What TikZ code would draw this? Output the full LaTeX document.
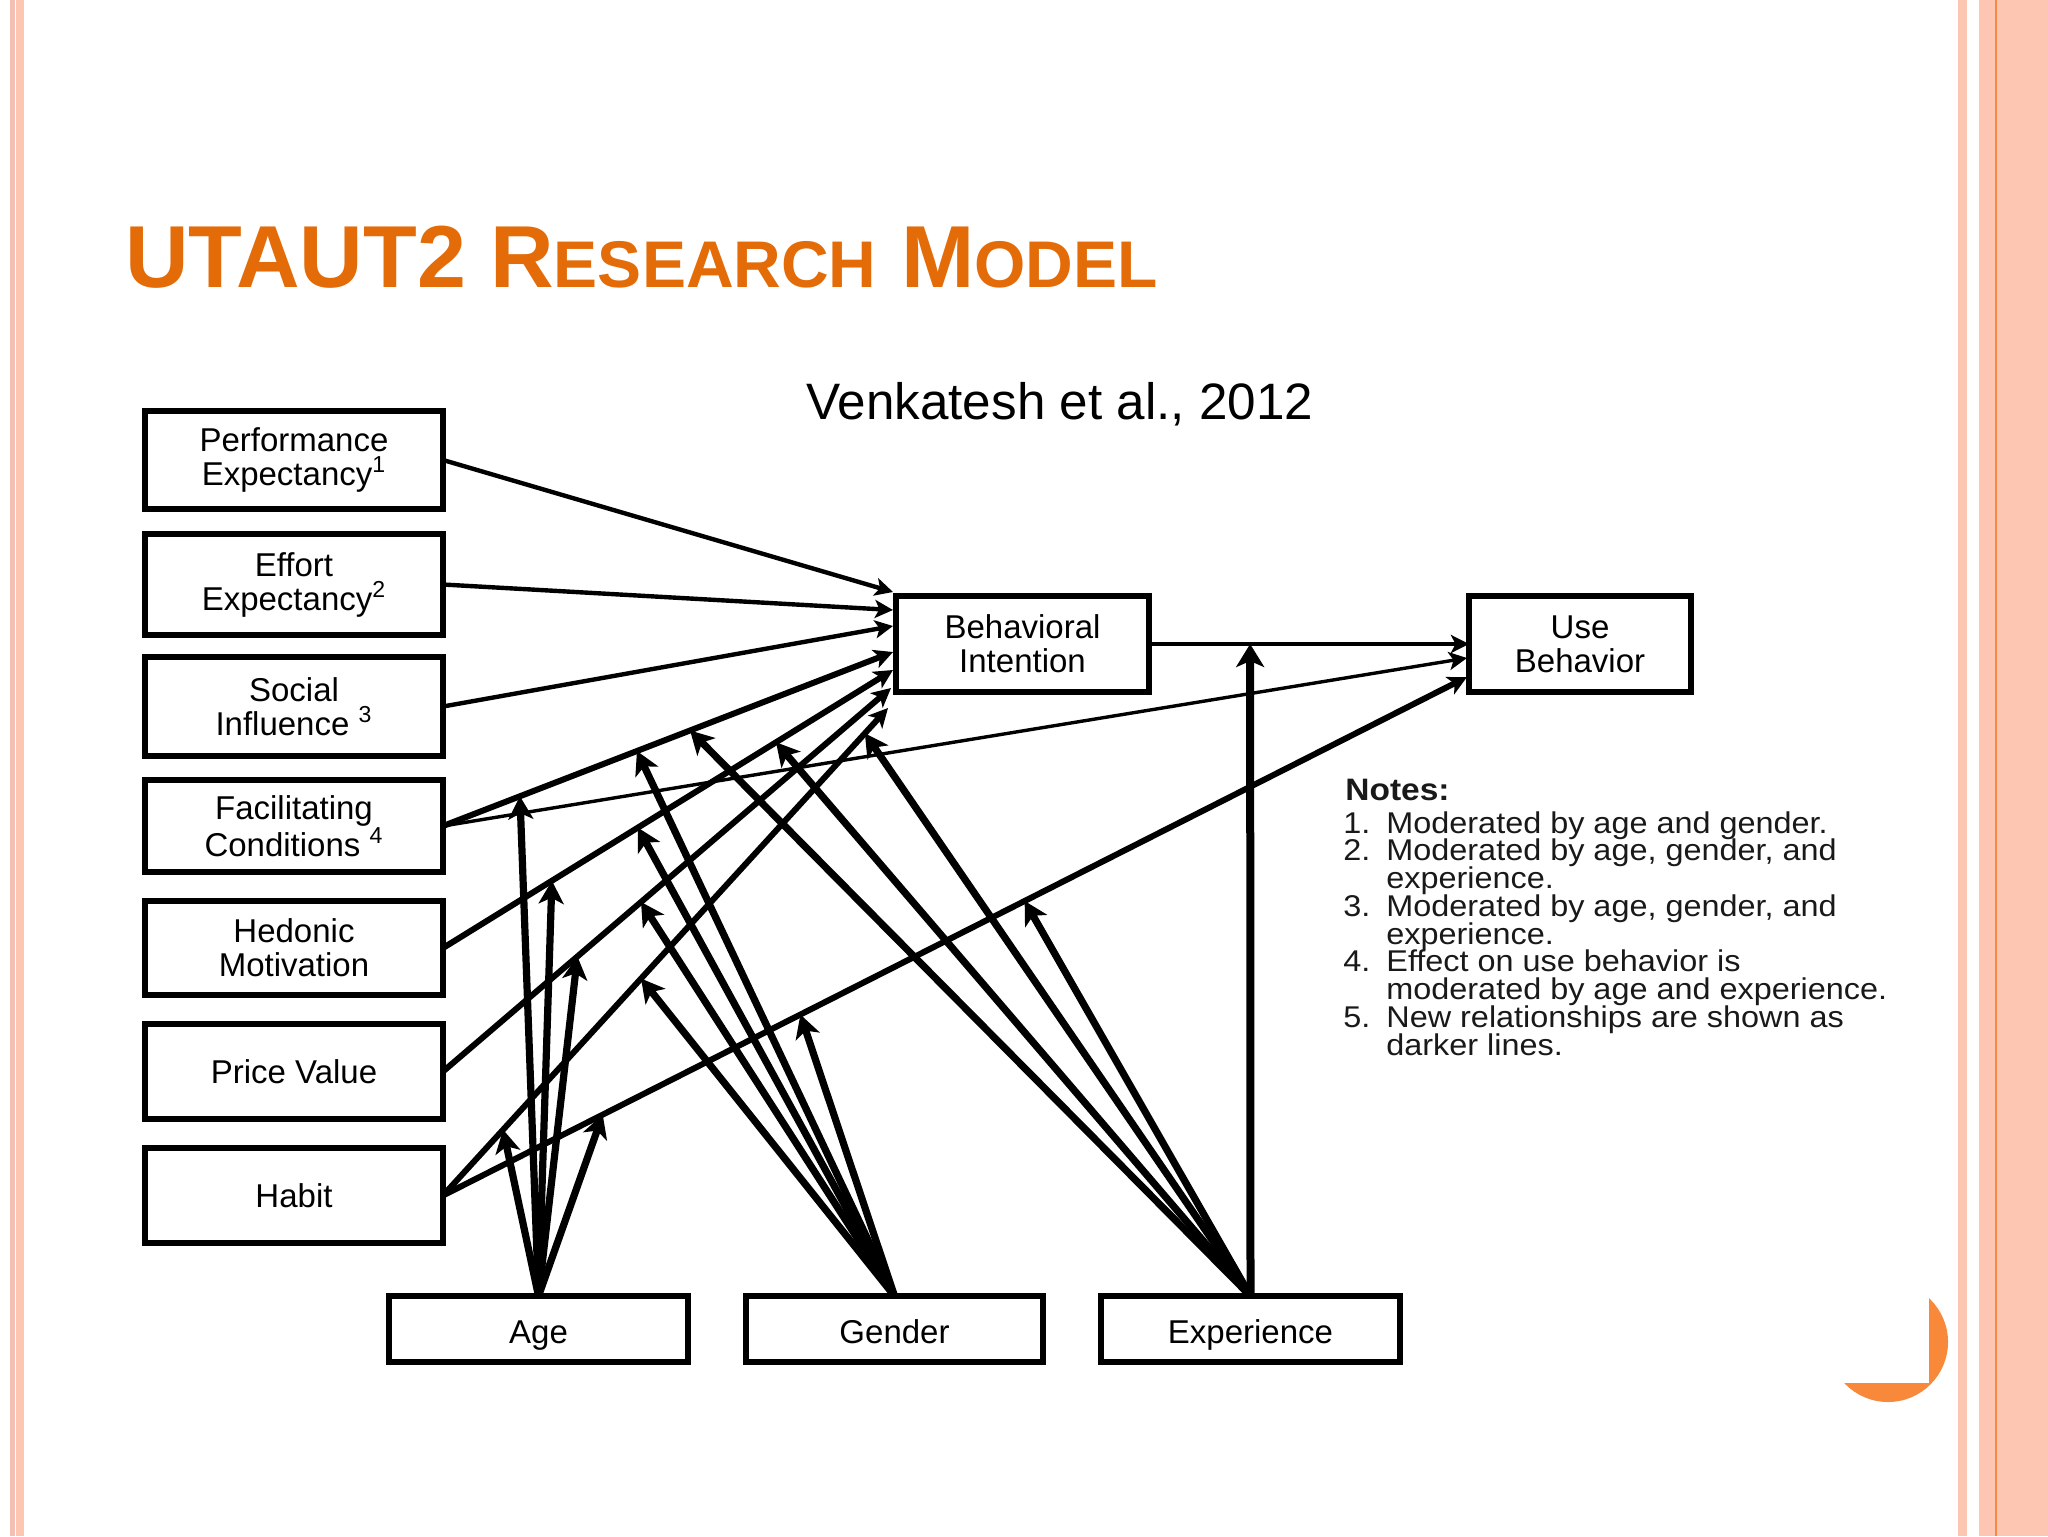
\documentclass[tikz,border=0pt]{standalone}
\usepackage{fontspec}
\setmainfont{Liberation Sans}
\usepackage{graphicx}
\usetikzlibrary{arrows.meta,calc}
\definecolor{titleor}{RGB}{227,108,9}
\definecolor{pinkbd}{RGB}{252,198,178}
\definecolor{pinkdk}{RGB}{244,192,182}
\definecolor{orline}{RGB}{245,138,70}
\definecolor{orcirc}{RGB}{248,136,58}
\definecolor{notegray}{RGB}{25,25,25}
\begin{document}
\begin{tikzpicture}[x=0.5pt,y=-0.5pt,
  bx/.style={draw, line width=2.6pt, inner sep=0pt, outer sep=0pt, align=center,
             fill=white, font=\fontsize{16.5}{17}\selectfont},
  lowtext/.style={text height=15pt, text depth=1pt},
  wh/.style 2 args={minimum width=#1*0.5pt, minimum height=#2*0.5pt},
  oldarr/.style={line width=2.2pt, -{Stealth[length=9pt,width=9pt,inset=2.2pt]}},
  newarr/.style={line width=3pt, -{Stealth[length=9.5pt,width=9.5pt,inset=2.4pt]}},
  thinarr/.style={line width=1.7pt, -{Stealth[length=9pt,width=9pt,inset=2.2pt]}},
  modarr/.style={line width=3.6pt, -{Stealth[length=11.5pt,width=12.5pt,inset=3pt]}},
  notefont/.style={anchor=base west, inner sep=0pt, text=notegray, font=\fontsize{15}{16}\selectfont}
]
% page
\fill[white] (0,0) rectangle (2048,1536);
\useasboundingbox (0,0) rectangle (2048,1536);
\fill[pinkdk] (10,0) rectangle (15,1536);
\fill[pinkbd] (16,0) rectangle (24,1536);
\fill[pinkbd] (1958,0) rectangle (1967,1536);
\fill[pinkbd] (1979,0) rectangle (2048,1536);
\fill[orline] (1994.5,0) rectangle (1997,1536);
% ornament
\fill[orcirc] (1888,1342) circle[radius=30pt];
\fill[white] (1800,1260) rectangle (1929,1383);

% title
\node[anchor=base west, inner sep=0pt, text=titleor, font=\bfseries] (title) at (125,287)
  {\fontsize{44}{50}\selectfont UTAUT2 R\fontsize{33}{40}\selectfont ESEARCH\fontsize{44}{50}\selectfont{} M\fontsize{33}{40}\selectfont ODEL};
\node[anchor=base west, inner sep=0pt, font=\fontsize{25.6}{30}\selectfont] (cite) at (806,419)
  {Venkatesh et al., 2012};

% boxes
\node[bx, wh={298}{98}]  (PE) at (294,460)    {Performance\\Expectancy\textsuperscript{1}};
\node[bx, wh={298}{101}] (EE) at (294,584.5)  {Effort\\Expectancy\textsuperscript{2}};
\node[bx, wh={298}{99}]  (SI) at (294,706.5)  {Social\\Influence \textsuperscript{3}};
\node[bx, wh={298}{92}]  (FC) at (294,826)    {Facilitating\\Conditions \textsuperscript{4}};
\node[bx, wh={298}{94}]  (HM) at (294,948)    {Hedonic\\Motivation};
\node[bx, wh={298}{95}]  (PV) at (294,1071.5) {Price Value};
\node[bx, wh={298}{95}]  (HB) at (294,1195.5) {Habit};
\node[bx, wh={253}{96}]  (BI) at (1022.5,644) {Behavioral\\Intention};
\node[bx, wh={222}{96}]  (UB) at (1580,644)   {Use\\Behavior};
\node[bx, lowtext, wh={299}{66}] (AG) at (538.5,1329)  {Age};
\node[bx, lowtext, wh={297}{66}] (GE) at (894.5,1329)  {Gender};
\node[bx, lowtext, wh={299}{66}] (EX) at (1250.5,1329) {Experience};

% arrow end points on Behavioral Intention and Use Behavior
\coordinate (tPE) at ($(BI.north west)+(-3,-4)$);
\coordinate (tEE) at ($(BI.north west)+(-3,14)$);
\coordinate (tSI) at ($(BI.north west)+(-3,30)$);
\coordinate (tFC) at ($(BI.north west)+(-3,56)$);
\coordinate (tHM) at ($(BI.north west)+(-3,74)$);
\coordinate (tPV) at ($(BI.north west)+(-5,92)$);
\coordinate (tHB) at ($(BI.north west)+(-8,112)$);
\coordinate (uFC) at ($(UB.west)+(-2,14)$);
\coordinate (uHB) at ($(UB.west)+(-2,33)$);

% main paths
\draw[oldarr] (PE.east) -- (tPE);
\draw[oldarr] (EE.east) -- (tEE);
\draw[oldarr] (SI.east) -- (tSI);
\draw[newarr] (FC.east) -- (tFC) coordinate[pos=0.171] (fcA) coordinate[pos=0.431] (fcG) coordinate[pos=0.549] (fcE);
\draw[thinarr] (FC.east) -- (uFC);
\draw[newarr] (HM.east) -- (tHM) coordinate[pos=0.242] (hmA) coordinate[pos=0.433] (hmG) coordinate[pos=0.74] (hmE);
\draw[newarr] (PV.east) -- (tPV) coordinate[pos=0.3] (pvA) coordinate[pos=0.442] (pvG);
\draw[newarr] (HB.east) -- (tHB) coordinate[pos=0.135] (hbA) coordinate[pos=0.445] (hbG) coordinate[pos=0.948] (hbE);
\draw[newarr] (HB.east) -- (uHB) coordinate[pos=0.156] (huA) coordinate[pos=0.349] (huG) coordinate[pos=0.568] (huE);
\draw[oldarr] (BI.east) -- (UB.west) coordinate[pos=0.316] (buE);

% moderators
\foreach \mm in {fcA,hmA,pvA,hbA,huA} \draw[modarr] (AG.north) -- (\mm);
\foreach \mm in {fcG,hmG,pvG,hbG,huG} \draw[modarr] (GE.north) -- (\mm);
\foreach \mm in {fcE,hmE,hbE,huE} \draw[modarr] (EX.north) -- (\mm);
\draw[modarr, line width=4pt, -{Stealth[length=11.5pt,width=14pt,inset=3pt]}] (EX.north) -- (buE);

% notes
\node[anchor=base west, inner sep=0pt, text=notegray, font=\bfseries\fontsize{15.5}{16}\selectfont] (notes) at (1345,800) {\scalebox{1.08}[1]{Notes:}};
\node[notefont] (num1) at (1343,833)    {\scalebox{1.08}[1]{1.}};
\node[notefont] (num2) at (1343,860.75) {\scalebox{1.08}[1]{2.}};
\node[notefont] (num3) at (1343,916.25) {\scalebox{1.08}[1]{3.}};
\node[notefont] (num4) at (1343,971.75) {\scalebox{1.08}[1]{4.}};
\node[notefont] (num5) at (1343,1027.25){\scalebox{1.08}[1]{5.}};
\foreach \yy/\txt [count=\k] in {
  833/{Moderated by age and gender.},
  860.75/{Moderated by age, gender, and},
  888.5/{experience.},
  916.25/{Moderated by age, gender, and},
  944/{experience.},
  971.75/{Effect on use behavior is},
  999.5/{moderated by age and experience.},
  1027.25/{New relationships are shown as},
  1055/{darker lines.}}
  \node[notefont] (line\k) at (1386,\yy) {\scalebox{1.08}[1]{\txt}};
\end{tikzpicture}
\end{document}
